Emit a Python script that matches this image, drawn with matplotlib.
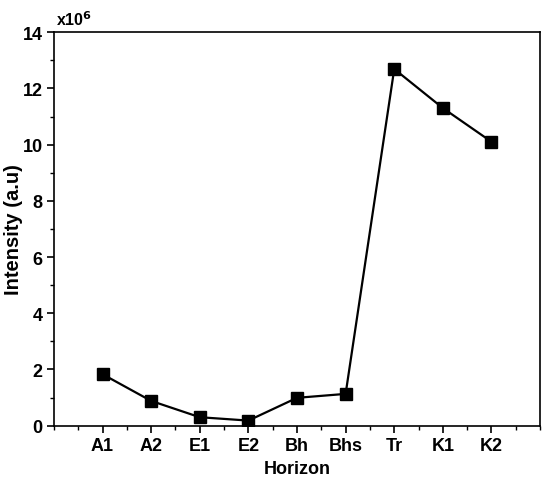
import matplotlib.pyplot as plt
from matplotlib.ticker import MultipleLocator

plt.rcParams['font.family'] = ['Liberation Sans', 'DejaVu Sans']
plt.rcParams['font.weight'] = 'bold'

horizons = ['A1', 'A2', 'E1', 'E2', 'Bh', 'Bhs', 'Tr', 'K1', 'K2']
intensity = [1.83, 0.88, 0.30, 0.18, 0.99, 1.13, 12.69, 11.30, 10.10]  # x10^6

fig = plt.figure(figsize=(5.5, 4.81), dpi=100)
ax = fig.add_axes([0.098, 0.113, 0.884, 0.818])

x = list(range(1, len(horizons) + 1))
ax.plot(x, intensity, color='black', linewidth=1.6, marker='s',
        markersize=8, markerfacecolor='black')

ax.set_xlim(0, 10)
ax.set_ylim(0, 14)
ax.set_xticks(x)
ax.set_xticklabels(horizons)
ax.xaxis.set_minor_locator(MultipleLocator(0.5))
ax.set_yticks([0, 2, 4, 6, 8, 10, 12, 14])
ax.yaxis.set_minor_locator(MultipleLocator(1))

ax.tick_params(which='major', direction='out', length=5, width=1.2,
               labelsize=13, pad=3)
ax.tick_params(which='minor', direction='out', length=3, width=1)
for s in ax.spines.values():
    s.set_linewidth(1.2)

ax.set_xlabel('Horizon', fontsize=13, fontweight='bold')
ax.set_ylabel('Intensity (a.u)', fontsize=14.5, fontweight='bold')
ax.xaxis.set_label_coords(0.5, -0.088)
ax.yaxis.set_label_coords(-0.064, 0.5)
ax.text(0.005, 1.01, r'x10$^{6}$', transform=ax.transAxes, fontsize=11.5,
        fontweight='bold', ha='left', va='bottom')

plt.savefig('out.png', dpi=100)
